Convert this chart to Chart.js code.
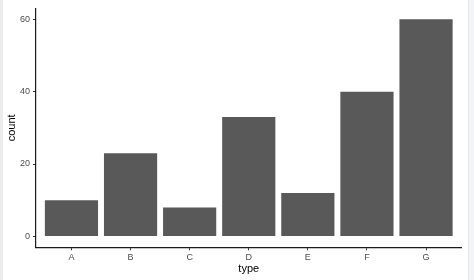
<!DOCTYPE html>
<html>
<head>
<meta charset="utf-8">
<script src="https://cdn.jsdelivr.net/npm/chart.js@4"></script>
<style>
  html, body { margin: 0; padding: 0; background: #ffffff; overflow: hidden; }
  #wrap { position: relative; width: 474px; height: 280px; }
  canvas { position: absolute; left: 0; top: 0; }
  .stripL { position: absolute; left: 0; top: 0; width: 3px; height: 280px; background: #ececec; }
  .stripR { position: absolute; left: 468px; top: 0; width: 6px; height: 280px; background: #f3f4f7; border-left: 1px solid #e4e6ea; }
</style>
</head>
<body>
<div id="wrap">
  <canvas id="c" width="474" height="280"></canvas>
  <div class="stripL"></div>
  <div class="stripR"></div>
</div>
<script>
const categories = ["A", "B", "C", "D", "E", "F", "G"];
const counts = [10, 23, 8, 33, 12, 40, 60];
const yTicks = [0, 20, 40, 60];

const points = categories.map((c, i) => ({ x: i + 1, y: counts[i] }));

new Chart(document.getElementById('c'), {
  type: 'bar',
  data: {
    datasets: [{
      data: points,
      backgroundColor: '#595959',
      borderWidth: 0,
      barPercentage: 0.9,
      categoryPercentage: 1.0
    }]
  },
  options: {
    responsive: false,
    animation: false,
    layout: { padding: { top: 6.35, right: 12.5, left: 0, bottom: 0 } },
    plugins: { legend: { display: false }, tooltip: { enabled: false } },
    scales: {
      x: {
        type: 'linear',
        min: 0.4,
        max: 7.6,
        offset: false,
        afterBuildTicks: s => { s.ticks = categories.map((c, i) => ({ value: i + 1 })); },
        afterFit: s => { s.height = 32.75; },
        ticks: {
          callback: v => categories[v - 1],
          color: '#4d4d4d',
          font: { family: 'Liberation Sans', size: 9 },
          padding: 1.5,
          maxRotation: 0,
          autoSkip: false
        },
        grid: { offset: false, drawOnChartArea: false, tickLength: 3, color: '#333333', tickWidth: 1 },
        border: { display: true, color: '#1a1a1a', width: 1.2 },
        title: {
          display: true, text: 'type', color: '#000000',
          font: { family: 'Liberation Sans', size: 11 },
          padding: { top: 0, bottom: 4.4 }
        }
      },
      y: {
        min: -3,
        max: 63,
        afterBuildTicks: s => { s.ticks = yTicks.map(v => ({ value: v })); },
        afterFit: s => { s.width = 36; },
        ticks: {
          color: '#4d4d4d',
          font: { family: 'Liberation Sans', size: 9 },
          padding: 3
        },
        grid: { offset: false, drawOnChartArea: false, tickLength: 3, color: '#333333', tickWidth: 1 },
        border: { display: true, color: '#1a1a1a', width: 1.2 },
        title: {
          display: true, text: 'count', color: '#000000',
          font: { family: 'Liberation Sans', size: 11 },
          padding: { top: 5.4, bottom: 0 }
        }
      }
    }
  }
});
</script>
</body>
</html>
